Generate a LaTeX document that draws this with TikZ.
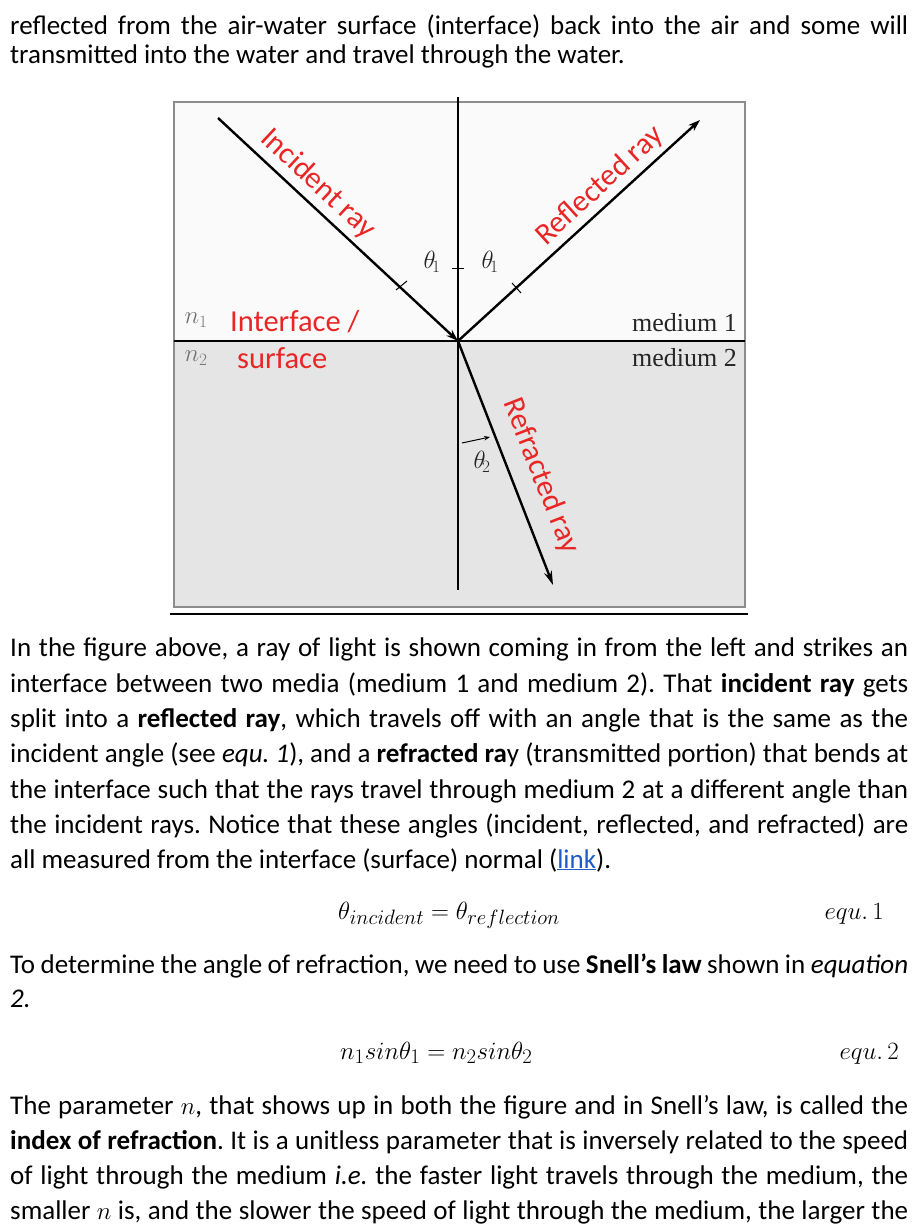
\documentclass[tikz,border=0pt]{standalone}
\usepackage{fontspec}
\setmainfont{Carlito}
\newfontfamily\timesf{Liberation Serif}
\usetikzlibrary{arrows.meta}
\definecolor{redlab}{RGB}{232,38,38}
\definecolor{linkblue}{RGB}{30,90,200}
\definecolor{lowgray}{RGB}{229,229,229}
\frenchspacing
\tikzset{
  line/.style={anchor=base west,inner sep=0pt,font=\fontsize{27}{30}\selectfont},
  eqn/.style={anchor=base west,inner sep=0pt,font=\fontsize{30}{32}\selectfont},
  redlab/.style={text=redlab,inner sep=0pt,font=\fontsize{30.5}{33}\selectfont},
  ray/.style={line width=2.4pt},
  med/.style={inner sep=0pt,font=\timesf\fontsize{26}{28}\selectfont,text=black!85},
}
\newcommand{\jl}[1]{\makebox[898pt][s]{#1}}
\begin{document}
\begin{tikzpicture}[x=1pt,y=-1pt]
\useasboundingbox (0,0) rectangle (922,1230);
\fill[white] (0,0) rectangle (922,1230);
% text top
\node[line] (l1) at (10,35) {\jl{reflected from the air-water surface (interface) back into the air and some will}};
\node[line] (l2) at (10,64) {transmitted into the water and travel through the water.};
% figure
\fill[black!2] (174,102) rectangle (745,341);
\fill[lowgray] (174,341) rectangle (745,607);
\draw[black!45,line width=1.2pt] (174,102) rectangle (745,607);
\draw[line width=1.4pt] (170,614) -- (748,614);
\coordinate (O) at (458,341);
\coordinate (A) at (218,118);
\coordinate (R) at (700,120);
\coordinate (T) at (553,585);
\coordinate (N1) at (458,97);
\coordinate (N2) at (458,590);
\draw[line width=1.1pt] (N1) -- (N2);
\draw[line width=1.3pt] (174,341) -- (745,341);
\draw[ray,-{Stealth[length=12pt,width=8pt]}] (A) -- (O);
\draw[ray,-{Stealth[length=12pt,width=8pt]}] (O) -- (R);
\draw[ray,-{Stealth[length=14pt,width=8pt]}] (O) -- (T);
% angle ticks
\draw[line width=1pt] (396,290) -- (407,281);
\draw[line width=1pt] (521,293) -- (512,283);
\draw[line width=0.7pt] (452,268) -- (464,268);
\draw[line width=0.7pt] (458,263) -- (458,273);
\draw[line width=1pt,-{Stealth[length=6pt]}] (462,443) -- (490,437);
\node[med] (t1a) at (432,262) {$\theta_{\!1}$};
\node[med] (t1b) at (490,262) {$\theta_{\!1}$};
\node[med] (t2) at (482,462) {$\theta_{\!2}$};
\node[med,anchor=east] (m1) at (737,323) {medium 1};
\node[med,anchor=east] (m2) at (737,358) {medium 2};
\node[med,text=black!55] (n1) at (196,320) {$n_1$};
\node[med,text=black!55] (n2) at (196,358) {$n_2$};
\node[redlab,anchor=west] (if) at (230,322) {Interface /};
\node[redlab,anchor=west] (sf) at (237,358) {surface};
\node[redlab,rotate=-43] (inc) at (318,184) {Incident ray};
\node[redlab,rotate=42.5] (ref) at (600,186) {Reflected ray};
\node[redlab,rotate=-68.7] (rfr) at (541,476) {Refracted ray};
% paragraph
\node[line] (p1) at (10,656) {\jl{In the figure above, a ray of light is shown coming in from the left and strikes an}};
\node[line] (p2) at (10,692) {\jl{interface between two media (medium 1 and medium 2). That \textbf{incident ray} gets}};
\node[line] (p3) at (10,727) {\jl{split into a \textbf{reflected ray}, which travels off with an angle that is the same as the}};
\node[line] (p4) at (10,762) {\jl{incident angle (see \textit{equ. 1}), and a \textbf{refracted ra}y (transmitted portion) that bends at}};
\node[line] (p5) at (10,798) {\jl{the interface such that the rays travel through medium 2 at a different angle than}};
\node[line] (p6) at (10,833) {\jl{the incident rays. Notice that these angles (incident, reflected, and refracted) are}};
\node[line] (p7) at (10,868) {all measured from the interface (surface) normal ({\color{linkblue}\underline{link}}).};
\node[eqn] (e1) at (338,919) {$\theta_{incident} = \theta_{reflection}$};
\node[eqn,anchor=base east] (e1n) at (884,919) {$equ.\,1$};
\node[line] (q1) at (10,973) {\jl{To determine the angle of refraction, we need to use \textbf{Snell’s law} shown in \textit{equation}}};
\node[line] (q2) at (10,1007) {\textit{2.}};
\node[eqn] (e2) at (340,1059) {$n_1 sin\theta_1 = n_2 sin\theta_2$};
\node[eqn,anchor=base east] (e2n) at (899,1059) {$equ.\,2$};
\node[line] (r1) at (10,1114) {\jl{The parameter $n$, that shows up in both the figure and in Snell’s law, is called the}};
\node[line] (r2) at (10,1149) {\jl{\textbf{index of refraction}. It is a unitless parameter that is inversely related to the speed}};
\node[line] (r3) at (10,1184) {\jl{of light through the medium \textit{i.e.} the faster light travels through the medium, the}};
\node[line] (r4) at (10,1219) {\jl{smaller $n$ is, and the slower the speed of light through the medium, the larger the}};
\end{tikzpicture}
\end{document}
